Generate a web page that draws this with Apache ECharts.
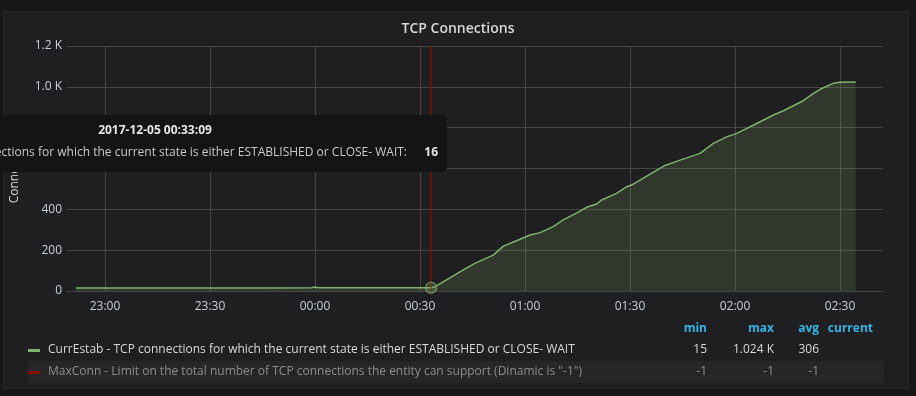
<!DOCTYPE html>
<html>
<head>
<meta charset="utf-8">
<script src="https://cdn.jsdelivr.net/npm/echarts@6/dist/echarts.min.js"></script>
<style>
  html, body { margin: 0; padding: 0; background: #161616; }
  #wrap { position: relative; width: 916px; height: 396px; overflow: hidden; }
  #panel { position: absolute; left: 3px; top: 11px; width: 904px; height: 376px;
           background: #1f1e20; border: 1px solid #2a2a2c; }
  #chart { position: absolute; left: 0; top: 0; width: 916px; height: 396px; }
</style>
</head>
<body>
<div id="wrap">
  <div id="panel"></div>
  <div id="chart"></div>
</div>
<script>
// ---- data (UTC times) ----
const times = [
  '2017-12-04T22:51:40Z', '2017-12-04T23:10:00Z', '2017-12-04T23:30:00Z', '2017-12-04T23:45:00Z',
  '2017-12-04T23:59:00Z', '2017-12-05T00:00:00Z', '2017-12-05T00:01:00Z', '2017-12-05T00:15:00Z',
  '2017-12-05T00:30:00Z', '2017-12-05T00:33:09Z', '2017-12-05T00:34:20Z', '2017-12-05T00:41:25Z',
  '2017-12-05T00:45:40Z', '2017-12-05T00:50:55Z', '2017-12-05T00:53:50Z', '2017-12-05T00:57:35Z',
  '2017-12-05T01:01:25Z', '2017-12-05T01:04:20Z', '2017-12-05T01:08:05Z', '2017-12-05T01:10:55Z',
  '2017-12-05T01:14:50Z', '2017-12-05T01:17:35Z', '2017-12-05T01:20:30Z', '2017-12-05T01:21:55Z',
  '2017-12-05T01:26:10Z', '2017-12-05T01:29:05Z', '2017-12-05T01:30:25Z', '2017-12-05T01:40:00Z',
  '2017-12-05T01:44:20Z', '2017-12-05T01:50:00Z', '2017-12-05T01:53:50Z', '2017-12-05T01:57:35Z',
  '2017-12-05T02:00:30Z', '2017-12-05T02:05:20Z', '2017-12-05T02:11:00Z', '2017-12-05T02:13:50Z',
  '2017-12-05T02:19:30Z', '2017-12-05T02:22:25Z', '2017-12-05T02:24:20Z', '2017-12-05T02:28:05Z',
  '2017-12-05T02:30:00Z', '2017-12-05T02:34:30Z'
];
const currEstab = [
  15, 15, 15, 15,
  16, 20, 16, 16,
  16, 16, 21, 94,
  135, 176, 220, 246,
  274, 286, 315, 348,
  383, 410, 426, 446,
  478, 511, 519, 615,
  641, 674, 723, 755,
  772, 813, 862, 883,
  932, 968, 988, 1017,
  1023, 1024
];
const hoverTime = '2017-12-05T00:33:09Z';
const hoverValue = 16;
const hoverLabel = '2017-12-05 00:33:09';

const axisMin = '2017-12-04T22:49:09Z';
const axisMax = '2017-12-05T02:42:17Z';
const xTicks = [
  '2017-12-04T23:00:00Z', '2017-12-04T23:30:00Z', '2017-12-05T00:00:00Z', '2017-12-05T00:30:00Z',
  '2017-12-05T01:00:00Z', '2017-12-05T01:30:00Z', '2017-12-05T02:00:00Z', '2017-12-05T02:30:00Z'
];
const yTicks = [0, 200, 400, 600, 800, 1000, 1200];

const seriesNames = [
  'CurrEstab - TCP connections for which the current state is either ESTABLISHED or CLOSE- WAIT',
  'MaxConn - Limit on the total number of TCP connections the entity can support (Dinamic is "-1")'
];
const seriesColors = ['#7eb26d', '#890f02'];
const statHeaders = ['min', 'max', 'avg', 'current'];
const statsCurr = ['15', '1.024 K', '306', ''];
const statsMax = ['-1', '-1', '-1', ''];

// ---- chart ----
const chart = echarts.init(document.getElementById('chart'), null, { renderer: 'canvas' });
const ts = s => new Date(s).getTime();
const pad = n => (n < 10 ? '0' : '') + n;
const FONT = '"Open Sans", "Noto Sans", sans-serif';

const lineData = times.map((t, i) => [ts(t), currEstab[i]]);
const xTickVals = xTicks.map(ts);

const statRight = [707, 774, 819, 873];
const graphics = [];
// tooltip box
graphics.push({ type: 'rect', z: 100, shape: { x: -10, y: 115, width: 457, height: 57, r: 5 },
  style: { fill: '#141414' } });
graphics.push({ type: 'text', z: 101, x: 155, y: 131,
  style: { text: hoverLabel, fill: '#e6e6e6', font: 'bold 12px ' + FONT, textAlign: 'center', textVerticalAlign: 'middle' } });
graphics.push({ type: 'text', z: 101, x: 407, y: 153,
  style: { text: seriesNames[0] + ':', fill: '#c8c9ca', font: '12px ' + FONT, textAlign: 'right', textVerticalAlign: 'middle' } });
graphics.push({ type: 'text', z: 101, x: 438, y: 153,
  style: { text: String(hoverValue), fill: '#e6e6e6', font: 'bold 12px ' + FONT, textAlign: 'right', textVerticalAlign: 'middle' } });

// legend table
statHeaders.forEach((h, i) => {
  graphics.push({ type: 'text', x: statRight[i], y: 329,
    style: { text: h, fill: '#33b5e5', font: 'bold 12px ' + FONT, textAlign: 'right', textVerticalAlign: 'middle' } });
});
graphics.push({ type: 'rect', shape: { x: 28, y: 361, width: 856, height: 22 }, style: { fill: '#262628' } });
const rows = [statsCurr, statsMax];
const rowY = [350, 372];
const rowColor = ['#d8d9da', '#8e8e90'];
rows.forEach((vals, r) => {
  graphics.push({ type: 'rect', shape: { x: 28, y: rowY[r] - 1, width: 12, height: 3 }, style: { fill: seriesColors[r] } });
  graphics.push({ type: 'text', x: 48, y: rowY[r],
    style: { text: seriesNames[r], fill: rowColor[r], font: '12px ' + FONT, textVerticalAlign: 'middle' } });
  vals.forEach((v, i) => {
    graphics.push({ type: 'text', x: statRight[i], y: rowY[r],
      style: { text: v, fill: rowColor[r], font: '12px ' + FONT, textAlign: 'right', textVerticalAlign: 'middle' } });
  });
});

const option = {
  animation: false,
  backgroundColor: 'transparent',
  title: {
    text: 'TCP Connections', left: 'center', top: 17,
    textStyle: { color: '#d8d9da', fontSize: 14, fontWeight: 600, fontFamily: FONT }
  },
  grid: { left: 67, right: 33, top: 46, bottom: 105 },
  xAxis: {
    type: 'value',
    min: ts(axisMin), max: ts(axisMax),
    axisLine: { show: true, lineStyle: { color: '#464646' } },
    axisTick: { show: false, customValues: xTickVals },
    splitLine: { show: true, lineStyle: { color: '#464646', width: 1 } },
    axisLabel: {
      customValues: xTickVals,
      color: '#c7d0d9', fontSize: 12, fontFamily: FONT, margin: 10,
      formatter: v => { const d = new Date(v); return pad(d.getUTCHours()) + ':' + pad(d.getUTCMinutes()); }
    }
  },
  yAxis: {
    type: 'value', min: yTicks[0], max: yTicks[yTicks.length - 1], interval: yTicks[1] - yTicks[0],
    name: 'Connections', nameLocation: 'middle', nameGap: 46,
    nameTextStyle: { color: '#d8d9da', fontSize: 12, fontFamily: FONT },
    axisLine: { show: false }, axisTick: { show: false },
    splitLine: { show: true, lineStyle: { color: '#464646', width: 1 } },
    axisLabel: {
      color: '#c7d0d9', fontSize: 12, fontFamily: FONT, margin: 5,
      formatter: v => v >= 1000 ? (v / 1000).toFixed(1) + ' K' : String(v)
    }
  },
  graphic: graphics,
  series: [
    {
      name: seriesNames[0], type: 'line', data: lineData, showSymbol: false, symbol: 'none',
      lineStyle: { color: seriesColors[0], width: 1.5 },
      areaStyle: { color: seriesColors[0], opacity: 0.18 },
      markLine: {
        silent: true, symbol: 'none', label: { show: false },
        lineStyle: { color: 'rgba(137,15,2,0.85)', width: 1.5, type: 'solid' },
        data: [{ xAxis: ts(hoverTime) }]
      }
    },
    {
      name: 'hover', type: 'scatter', data: [[ts(hoverTime), hoverValue]],
      symbol: 'circle', symbolSize: 11, z: 5,
      itemStyle: { color: 'rgba(126,178,109,0.3)', borderColor: 'rgba(126,178,109,0.8)', borderWidth: 1.5 }
    }
  ]
};
chart.setOption(option);
</script>
</body>
</html>
